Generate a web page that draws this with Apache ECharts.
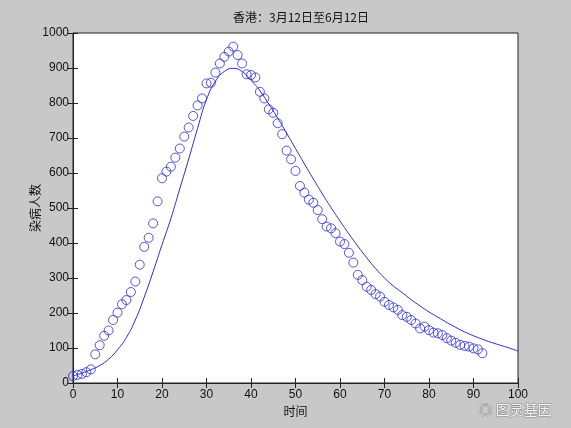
<!DOCTYPE html>
<html>
<head>
<meta charset="utf-8">
<script src="https://cdn.jsdelivr.net/npm/echarts@6/dist/echarts.min.js"></script>
<style>
  html, body { margin: 0; padding: 0; background: #c8c8c8; }
  #chart { width: 571px; height: 428px; }
</style>
</head>
<body>
<div id="chart"></div>
<script>
// observed cases, one per day from day 0 (3月12日)
const observed = [
  20, 23, 26, 31, 39, 82, 108, 135, 150, 180,
  201, 225, 237, 260, 290, 338, 389, 415, 456, 519,
  585, 604, 618, 644, 670, 704, 730, 763, 793, 813,
  856, 858, 887, 913, 932, 947, 961, 937, 913, 882,
  880, 873, 832, 813, 782, 772, 742, 711, 664, 639,
  606, 563, 544, 524, 515, 494, 468, 447, 442, 428,
  404, 397, 372, 344, 309, 294, 275, 266, 254, 247,
  232, 223, 216, 209, 194, 189, 180, 170, 156, 161,
  151, 144, 142, 137, 128, 121, 115, 109, 106, 104,
  99, 96, 85
]

// fitted model curve
const fitDays = [0, 2, 4, 6, 8, 10, 12, 14, 16, 18, 20, 22, 24, 26, 28, 30, 32, 34, 36, 38,
  40, 42, 44, 46, 48, 50, 52, 54, 56, 58, 60, 62, 64, 66, 68, 70, 72, 74, 76, 78,
  80, 82, 84, 86, 88, 90, 92, 94, 96, 98, 100]
const fitVals = [20, 28, 38, 50, 68, 95, 130, 180, 245, 318, 395, 470, 555, 640, 728, 810, 862, 890, 899, 890,
  865, 835, 797, 757, 714, 670, 626, 583, 541, 501, 463, 426, 391, 358, 327, 300, 277, 258, 238, 220,
  203, 188, 173, 159, 146, 135, 125, 116, 108, 100, 91]

const chart = echarts.init(document.getElementById('chart'))

const labelFont = {
  color: '#111',
  fontSize: 12,
  fontFamily: 'Liberation Sans, DejaVu Sans, sans-serif'
}
const cjkFont = 'Noto Sans CJK SC'
const tickStyle = { show: true, inside: true, length: 5, lineStyle: { color: '#222' } }

chart.setOption({
  backgroundColor: '#c8c8c8',
  animation: false,
  title: {
    text: '香港：3月12日至6月12日',
    left: 296,
    top: 6,
    textAlign: 'center',
    textStyle: { fontSize: 12, fontWeight: 'normal', color: '#111', fontFamily: cjkFont }
  },
  grid: {
    left: 73,
    right: 53,
    top: 33,
    bottom: 45,
    show: true,
    backgroundColor: '#ffffff',
    borderColor: '#222',
    borderWidth: 1
  },
  xAxis: [{
    type: 'value',
    min: 0,
    max: 100,
    interval: 10,
    name: '时间',
    nameLocation: 'middle',
    nameGap: 22,
    nameMoveOverlap: false,
    nameTextStyle: { fontSize: 12, color: '#111', fontFamily: cjkFont },
    axisLine: { show: true, lineStyle: { color: '#222' } },
    axisTick: tickStyle,
    axisLabel: Object.assign({ margin: 6, formatter: v => String(v) }, labelFont),
    splitLine: { show: false }
  }, {
    type: 'value',
    position: 'top',
    min: 0,
    max: 100,
    interval: 10,
    axisLine: { show: false },
    axisTick: tickStyle,
    axisLabel: { show: false },
    splitLine: { show: false }
  }],
  yAxis: [{
    type: 'value',
    min: 0,
    max: 1000,
    interval: 100,
    name: '染病人数',
    nameLocation: 'middle',
    nameGap: 32,
    nameMoveOverlap: false,
    nameRotate: 90,
    nameTextStyle: { fontSize: 12, color: '#111', fontFamily: cjkFont },
    axisLine: { show: true, lineStyle: { color: '#222' } },
    axisTick: tickStyle,
    axisLabel: Object.assign({ margin: 4, formatter: v => String(v) }, labelFont),
    splitLine: { show: false }
  }, {
    type: 'value',
    position: 'right',
    min: 0,
    max: 1000,
    interval: 100,
    axisLine: { show: false },
    axisTick: tickStyle,
    axisLabel: { show: false },
    splitLine: { show: false }
  }],
  series: [{
    name: 'fit',
    type: 'line',
    smooth: true,
    showSymbol: false,
    lineStyle: { color: '#2a2ad8', width: 1 },
    data: fitDays.map((d, i) => [d, fitVals[i]])
  }, {
    name: 'observed',
    type: 'scatter',
    symbol: 'circle',
    symbolSize: 9,
    itemStyle: { color: 'rgba(0,0,0,0)', borderColor: '#2a2ad8', borderWidth: 1 },
    data: observed.map((v, i) => [i, v])
  }],
  graphic: [{
    type: 'text',
    left: 478,
    top: 402,
    style: {
      text: '◎ 图灵基因',
      fill: '#f4f4f4',
      stroke: '#8a8a8a',
      lineWidth: 1,
      fontSize: 14,
      fontFamily: cjkFont
    }
  }]
})
</script>
</body>
</html>
